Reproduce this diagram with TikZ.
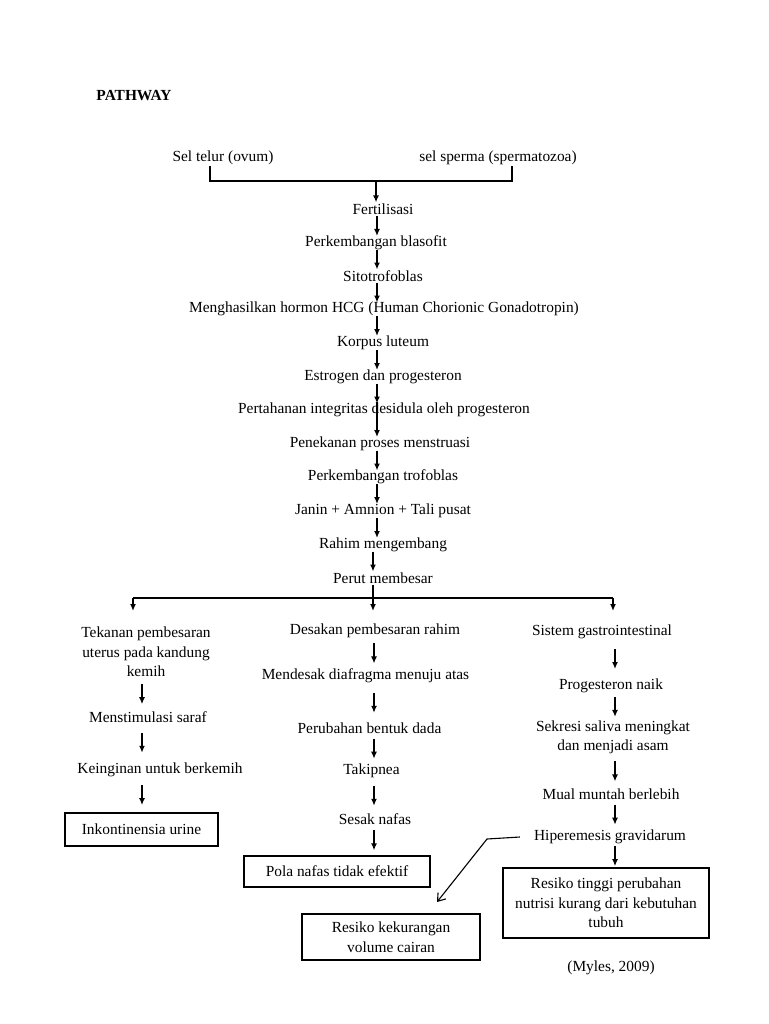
\documentclass[tikz,border=0pt]{standalone}
\usepackage{fontspec}
\setmainfont{Liberation Serif}
\usetikzlibrary{arrows.meta,calc}

\begin{document}
\begin{tikzpicture}[x=1pt,y=-1pt,
 txt/.style={inner sep=1pt,align=center,font=\fontsize{15.4}{19.5}\selectfont},
 box/.style={txt,draw,line width=2pt},
 arr/.style={-{Latex[length=7pt,width=6pt]},line width=1.4pt},
 barb/.style={-{Straight Barb[length=7pt,width=10pt]},line width=1.1pt}]
\useasboundingbox[fill=white] (0,0) rectangle (768,1024);

\node[txt,font=\bfseries\fontsize{15.4}{19.5}\selectfont] (judul) at (134,96) {PATHWAY};

\node[txt] (ovum) at (223,158) {Sel telur (ovum)};
\node[txt] (sperma) at (498,158) {sel sperma (spermatozoa)};
\coordinate (kurl) at (210,181);
\coordinate (kurr) at (512,181);
\coordinate (kurm) at (376,181);
\coordinate (pusat) at (377,0);

\node[txt] (fert) at (383,209) {Fertilisasi};
\node[txt] (blas) at (376,243) {Perkembangan blasofit};
\node[txt] (sito) at (383,276) {Sitotrofoblas};
\node[txt] (hcg) at (384,309) {Menghasilkan hormon HCG (Human Chorionic Gonadotropin)};
\node[txt] (korpus) at (383,343) {Korpus luteum};
\node[txt] (estro) at (383,377) {Estrogen dan progesteron};
\node[txt] (pert) at (384,410) {Pertahanan integritas desidula oleh progesteron};
\node[txt] (pen) at (380,444) {Penekanan proses menstruasi};
\node[txt] (trof) at (383,477) {Perkembangan trofoblas};
\node[txt] (janin) at (383,511) {Janin + Amnion + Tali pusat};
\node[txt] (rahim) at (383,545) {Rahim mengembang};
\node[txt] (perut) at (383,578) {Perut membesar};

\draw[line width=1.2pt] (kurl |- ovum.south) -- (kurl) -- (kurr) -- (kurr |- sperma.south);
\draw[arr] (kurm) -- (fert.north -| kurm);
\foreach \a/\b in {fert/blas,blas/sito,sito/hcg,hcg/korpus,korpus/estro,estro/pert,pen/trof,trof/janin,janin/rahim}
  \draw[arr] ($(\a -| pusat)!.5!(\b -| pusat)+(0,-10)$) -- ++(0,20);
\draw[arr] (pert.north -| pusat) -- ($(pert -| pusat)!.5!(pen -| pusat)+(0,10)$);

\coordinate (cabkiri) at (133,598);
\coordinate (cabkanan) at (613,598);
\coordinate (ujkiri) at (133,611);
\coordinate (ujtengah) at (373,611);
\coordinate (ujkanan) at (613,611);
\draw[arr] ($(rahim -| ujtengah)!.5!(perut -| ujtengah)+(0,-10)$) -- ++(0,20);
\draw[line width=1.2pt] (cabkiri) -- (cabkanan);
\draw[arr] (cabkiri) -- (ujkiri);
\draw[arr] (cabkanan) -- (ujkanan);
\draw[arr] (perut.south -| ujtengah) -- (ujtengah);

% kolom kiri
\coordinate (kiri) at (142,0);
\node[txt] (tekanan) at (146,652) {Tekanan pembesaran\\uterus pada kandung\\kemih};
\node[txt] (stim) at (148,717) {Menstimulasi saraf};
\node[txt] (ingin) at (160,770) {Keinginan untuk berkemih};
\node[box,minimum width=153pt,minimum height=33pt] (ink) at (141.5,829.5) {Inkontinensia urine};
\foreach \a/\b in {tekanan/stim,stim/ingin,ingin/ink}
  \draw[arr] ($(\a.south -| kiri)!.5!(\b.north -| kiri)+(0,-10)$) -- ++(0,20);

% kolom tengah
\coordinate (tengah) at (374,0);
\node[txt] (desak) at (375,631) {Desakan pembesaran rahim};
\node[txt] (diaf) at (365.5,676) {Mendesak diafragma menuju atas};
\node[txt] (dada) at (369.5,728) {Perubahan bentuk dada};
\node[txt] (taki) at (371.5,771) {Takipnea};
\node[txt] (sesak) at (375,819) {Sesak nafas};
\node[box,minimum width=186pt,minimum height=31pt] (pola) at (337,871.5) {Pola nafas tidak efektif};
\foreach \a/\b in {desak/diaf,diaf/dada,dada/taki,taki/sesak,sesak/pola}
  \draw[arr] ($(\a.south -| tengah)!.5!(\b.north -| tengah)+(0,-10)$) -- ++(0,20);

% kolom kanan
\coordinate (kanan) at (615,0);
\node[txt] (gastro) at (602,632) {Sistem gastrointestinal};
\node[txt] (prog) at (611,686) {Progesteron naik};
\node[txt] (saliva) at (613,737.5) {Sekresi saliva meningkat\\dan menjadi asam};
\node[txt] (mual) at (611,794) {Mual muntah berlebih};
\node[txt] (hiper) at (610,837) {Hiperemesis gravidarum};
\node[box,minimum width=206pt,minimum height=70pt] (tinggi) at (606,903) {Resiko tinggi perubahan\\nutrisi kurang dari kebutuhan\\tubuh};
\node[box,minimum width=178pt,minimum height=46pt] (kurang) at (391,937) {Resiko kekurangan\\volume cairan};
\foreach \a/\b in {gastro/prog,prog/saliva,saliva/mual,mual/hiper,hiper/tinggi}
  \draw[arr] ($(\a.south -| kanan)!.5!(\b.north -| kanan)+(0,-10)$) -- ++(0,20);

\coordinate (tekuk) at (487,839);
\coordinate (ujung) at (437,902);
\draw[barb] ([xshift=-13pt]hiper.west) -- (tekuk) -- (ujung);

\node[txt] (sumber) at (611,968) {(Myles, 2009)};
\end{tikzpicture}
\end{document}
